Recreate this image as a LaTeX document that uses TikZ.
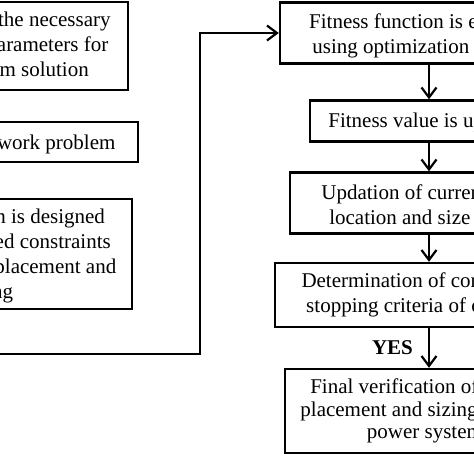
\documentclass[tikz,border=0pt]{standalone}
\usepackage{fontspec}
\setmainfont{Liberation Serif}
\usetikzlibrary{arrows.meta}
\tikzset{
  box/.style={draw=black, line width=2.4pt, fill=white, align=center, inner sep=0pt,
    font=\fontsize{21}{25}\selectfont},
  arr/.style={line width=2.2pt, -{Straight Barb[length=10pt,width=15pt]}},
  lbl/.style={font=\fontsize{21}{25}\selectfont\bfseries, inner sep=0pt}
}
\begin{document}
\begin{tikzpicture}[x=1pt,y=-1pt]
\useasboundingbox (0,0) rectangle (474,474);
\clip (0,0) rectangle (474,474);
% left column
\node[box, minimum width=227pt, minimum height=88pt] (L1) at (14.4,46)
  {Initialize the necessary\\desired parameters for\\optimum solution};
\node[box, minimum width=296pt, minimum height=40pt] (L2) at (-10,142)
  {\rule{0pt}{19pt}Distribution network problem};
\node[box, minimum width=288pt, minimum height=110pt] (L3) at (-12,254)
  {\rule{0pt}{18pt}Fitness function is designed\\with the specified constraints\\for optimal DG placement and\\sizing};
% right column
\node[box, minimum width=298pt, minimum height=61pt] (R1) at (429,33)
  {\rule{0pt}{20pt}Fitness function is evaluated\\using optimization methods};
\node[box, minimum width=238pt, minimum height=41pt] (R2) at (429,121)
  {\rule{0pt}{18pt}Fitness value is updated};
\node[box, minimum width=278pt, minimum height=61pt] (R3) at (429,203)
  {\rule{0pt}{19pt}Updation of current DG's\\location and size of DG};
\node[box, minimum width=308pt, minimum height=64pt] (R4) at (429,295)
  {Determination of convergence\\stopping criteria of optimizer};
\node[box, minimum width=288pt, minimum height=84pt, font=\fontsize{21}{22.5}\selectfont] (R5) at (429,411)
  {Final verification of optimal\\placement and sizing of DG in\\power systems};
% connectors
\coordinate (src) at (-10,354);
\coordinate (k1) at (200,354);
\draw[arr] (src) -- (k1) -- (k1 |- R1.west) -- (R1.west);
\draw[arr] (R1) -- (R2);
\draw[arr] (R2) -- (R3);
\draw[arr] (R3) -- (R4);
\draw[arr] (R4) -- (R5) node[midway, left=15pt, lbl] {YES};
\end{tikzpicture}
\end{document}
